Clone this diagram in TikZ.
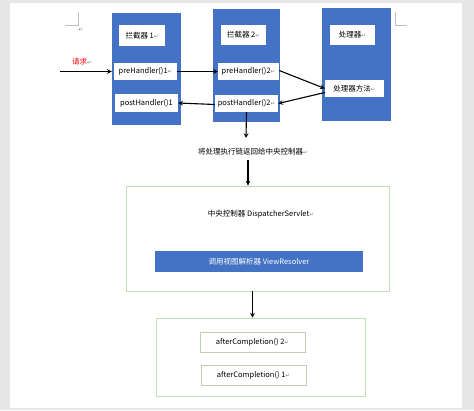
\documentclass[tikz,border=0pt]{standalone}
\usepackage{fontspec}
\setmainfont{Noto Sans CJK SC}
\newfontfamily\markfont{DejaVu Sans}
\usetikzlibrary{arrows,positioning}
\definecolor{wdblue}{RGB}{68,114,196}
\definecolor{wdgreen}{RGB}{197,222,180}
\definecolor{wdframe}{RGB}{190,205,180}
\definecolor{wdgray}{RGB}{230,230,230}
\definecolor{wdred}{RGB}{255,0,0}
\newcommand{\retmark}{{\markfont\fontsize{5.5}{6}\selectfont\textcolor{gray}{↵}}}
\tikzstyle{arrow} = [line width=1.1pt,->,>=stealth]
\tikzstyle{column} = [fill=wdblue, inner sep=0pt]
\tikzstyle{whitebox} = [fill=white, inner sep=0pt, font=\fontsize{7.5}{8}\selectfont]
\tikzstyle{frame} = [draw=wdgreen, line width=0.8pt, inner sep=0pt]

\begin{document}
\begin{tikzpicture}[x=1pt, y=-1pt]
% Page
\fill[wdgray] (0,0) rectangle (474,410);
\fill[white] (10,3) rectangle (462,408);
\draw[gray!50] (65,25) -- (78,25) -- (78,12);
\draw[gray!50] (407,25) -- (395,25) -- (395,12);
\node[inner sep=0pt] (emptypar) at (81,30) {\retmark};

% Interceptors and handler
\node[column, minimum width=69pt, minimum height=112pt] (icol1) at (146.5,69) {};
\node[whitebox, minimum width=46pt, minimum height=21pt] (ititle1) at (142,35.5) {拦截器 1\retmark};
\node[whitebox, minimum width=63pt, minimum height=17pt] (pre1) at (145.5,71.5) {preHandler()1\retmark};
\node[whitebox, minimum width=63pt, minimum height=18pt] (post1) at (146.5,103) {postHandler()1};

\node[column, minimum width=67pt, minimum height=113pt] (icol2) at (246.5,65.5) {};
\node[whitebox, minimum width=45pt, minimum height=20pt] (ititle2) at (243.5,35) {拦截器 2\retmark};
\node[whitebox, minimum width=61pt, minimum height=17pt] (pre2) at (248.5,71.5) {preHandler()2\retmark};
\node[whitebox, minimum width=63pt, minimum height=17pt] (post2) at (246.5,103.5) {postHandler()2\retmark};

\node[column, minimum width=69pt, minimum height=113pt] (hcol) at (356.5,64.5) {};
\node[whitebox, minimum width=45pt, minimum height=20pt] (htitle) at (352.5,35) {处理器\retmark};
\node[whitebox, minimum width=59pt, minimum height=17pt] (hmethod) at (354.5,88.5) {处理器方法\retmark};

% Request
\node[font=\fontsize{7.5}{8}\selectfont, text=wdred, inner sep=0pt] (request) at (82,62) {请求\retmark};
\coordinate (reqstart) at (60,71.5);

% Chain text
\node[font=\fontsize{7.5}{8}\selectfont, inner sep=0pt] (chain) at (253,152) {将处理执行链返回给中央控制器\retmark};
\coordinate (chainin) at (246,138);
\coordinate (chainout) at (248,160);

% Dispatcher
\node[frame, minimum width=263pt, minimum height=105pt] (disp) at (257.5,238.5) {};
\node[font=\fontsize{7.5}{8}\selectfont, inner sep=0pt] (disptext) at (261,214) {中央控制器 DispatcherServlet\retmark};
\node[column, text=white, font=\fontsize{7.5}{8}\selectfont, minimum width=208pt, minimum height=21pt] (resolver) at (259,261.5) {调用视图解析器 ViewResolver};

% After completion
\node[frame, minimum width=209pt, minimum height=78pt] (after) at (260.5,357) {};
\node[whitebox, draw=wdframe, minimum width=105pt, minimum height=20pt] (after2) at (252.5,342) {afterCompletion() 2\retmark};
\node[whitebox, draw=wdframe, minimum width=105pt, minimum height=20pt] (after1) at (253.5,375) {afterCompletion() 1\retmark};

% Arrows
\draw[arrow] (reqstart) -- (icol1.west |- reqstart);
\draw[arrow] (pre1.east) -- (pre2.west);
\draw[arrow] ([yshift=1pt]pre2.east) -- (hmethod.west);
\draw[arrow] ([yshift=-4pt]hmethod.west) -- (post2.east);
\draw[arrow] ([yshift=-1pt]post2.west) -- (post1.east);
\draw[arrow] (post2.south) -- (chainin);
\draw[arrow] (chainout) -- (chainout |- disp.north);
\draw[arrow] (disp.south -| after2) -- (after.north -| after2);
\end{tikzpicture}
\end{document}
